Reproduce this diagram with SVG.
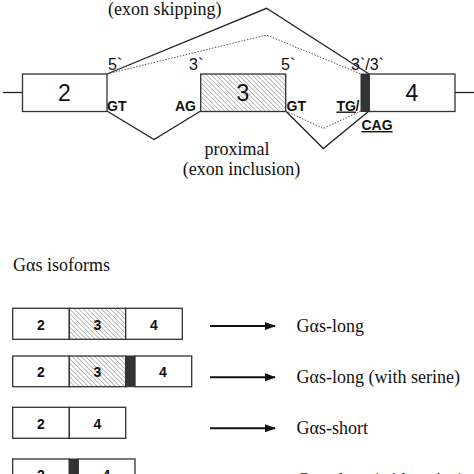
<svg xmlns="http://www.w3.org/2000/svg" width="474" height="474" viewBox="0 0 474 474">
<defs>
<pattern id="hatch" patternUnits="userSpaceOnUse" width="3.2" height="3.2" patternTransform="rotate(-45)">
<rect width="3.2" height="3.2" fill="#ffffff"/>
<line x1="0" y1="0" x2="0" y2="3.2" stroke="#888" stroke-width="1.1"/>
</pattern>
<marker id="arr" markerWidth="11" markerHeight="8" refX="10" refY="4" orient="auto" markerUnits="userSpaceOnUse">
<path d="M0,0 L11,4 L0,8 Z" fill="#111"/>
</marker>
<style>
.box{fill:#fff;stroke:#333;stroke-width:1.3}
.hb{fill:url(#hatch);stroke:#333;stroke-width:1.3}
.dark{fill:#333;stroke:#333;stroke-width:1}
.ln{fill:none;stroke:#222;stroke-width:1.3}
.dot{fill:none;stroke:#555;stroke-width:1;stroke-dasharray:1.5 1.5}
.big{font-family:"Liberation Sans",Arial,sans-serif;font-size:23px;fill:#111;text-anchor:middle}
.site{font-family:"Liberation Sans",Arial,sans-serif;font-size:16px;fill:#111}
.bold{font-family:"Liberation Sans",Arial,sans-serif;font-size:14px;font-weight:bold;fill:#111}
.serif{font-family:"Liberation Serif","Times New Roman",serif;font-size:18px;fill:#111}
.num{font-family:"Liberation Sans",Arial,sans-serif;font-size:14px;font-weight:bold;fill:#111;text-anchor:middle}
.arrow{stroke:#111;stroke-width:2;fill:none}
</style>
</defs>
<rect width="474" height="474" fill="#fff"/>

<g id="connectors">
<line class="ln" x1="3" y1="92.5" x2="22.5" y2="92.5"/>
<line class="ln" x1="455" y1="92.5" x2="474" y2="92.5"/>
<polyline class="ln" points="107,74 266.5,8.3 369,74"/>
<polyline class="dot" points="107,74 266.5,35 361,74"/>
<polyline class="ln" points="107,111 154,139.5 200.7,111"/>
<polyline class="ln" points="285.7,111 323.3,148.5 369,111"/>
<polyline class="dot" points="285.7,111 323.3,128.5 361,111"/>
<line class="arrow" x1="210" y1="326" x2="275" y2="326" marker-end="url(#arr)"/>
<line class="arrow" x1="210" y1="377.3" x2="275" y2="377.3" marker-end="url(#arr)"/>
<line class="arrow" x1="210" y1="428.3" x2="275" y2="428.3" marker-end="url(#arr)"/>
</g>

<g id="exon2">
<rect class="box" x="22.5" y="74" width="84.5" height="37.5"/>
<text class="big" x="64.5" y="101">2</text>
</g>
<g id="exon3">
<rect class="hb" x="200.7" y="74" width="85" height="37.5"/>
<text class="big" x="243" y="101">3</text>
</g>
<g id="serine">
<rect class="dark" x="361" y="74" width="8.3" height="37.5"/>
</g>
<g id="exon4">
<rect class="box" x="369.3" y="74" width="85.7" height="37.5"/>
<text class="big" x="412" y="101">4</text>
</g>

<g id="labels">
<text class="site" x="108" y="70">5`</text>
<text class="site" x="189" y="70">3`</text>
<text class="site" x="281" y="70">5`</text>
<text class="site" x="351" y="70">3`/3`</text>
<text class="bold" x="107" y="110.5">GT</text>
<text class="bold" x="175" y="110.5">AG</text>
<text class="bold" x="286.5" y="110.5">GT</text>
<text class="bold" x="336.5" y="110.5" text-decoration="underline">TG</text>
<text class="bold" x="355.5" y="110.5">/</text>
<text class="bold" x="361.5" y="130" text-decoration="underline">CAG</text>
<text class="serif" x="108" y="15">(exon skipping)</text>
<text class="serif" x="237" y="155" text-anchor="middle">proximal</text>
<text class="serif" x="241.5" y="175" text-anchor="middle">(exon inclusion)</text>
<text class="serif" x="13" y="271">Gαs isoforms</text>
</g>

<g id="iso1">
<rect class="box" x="12.7" y="308.3" width="56.6" height="31"/>
<rect class="hb" x="69.3" y="308.3" width="56.4" height="31"/>
<rect class="box" x="125.7" y="308.3" width="56.6" height="31"/>
<text class="num" x="41" y="329.5">2</text>
<text class="num" x="97.5" y="329.5">3</text>
<text class="num" x="154" y="329.5">4</text>
<text class="serif" x="296.5" y="332">Gαs-long</text>
</g>
<g id="iso2">
<rect class="box" x="12.7" y="356" width="56.6" height="30.7"/>
<rect class="hb" x="69.3" y="356" width="56.4" height="30.7"/>
<rect class="dark" x="125.7" y="356" width="9.3" height="30.7"/>
<rect class="box" x="135" y="356" width="56.7" height="30.7"/>
<text class="num" x="41" y="377">2</text>
<text class="num" x="97.5" y="377">3</text>
<text class="num" x="163" y="377">4</text>
<text class="serif" x="296.5" y="383">Gαs-long (with serine)</text>
</g>
<g id="iso3">
<rect class="box" x="12.7" y="407.3" width="56.6" height="31"/>
<rect class="box" x="69.3" y="407.3" width="56.4" height="31"/>
<text class="num" x="41" y="428.5">2</text>
<text class="num" x="97.5" y="428.5">4</text>
<text class="serif" x="296.5" y="434">Gαs-short</text>
</g>
<g id="iso4">
<rect class="box" x="12.7" y="459" width="56.6" height="31"/>
<rect class="dark" x="69.3" y="459" width="9" height="31"/>
<rect class="box" x="78.3" y="459" width="56.7" height="31"/>
<text class="num" x="41" y="480">2</text>
<text class="num" x="106.5" y="480">4</text>
<text class="serif" x="296.5" y="486">Gαs-short (with serine)</text>
</g>
</svg>
